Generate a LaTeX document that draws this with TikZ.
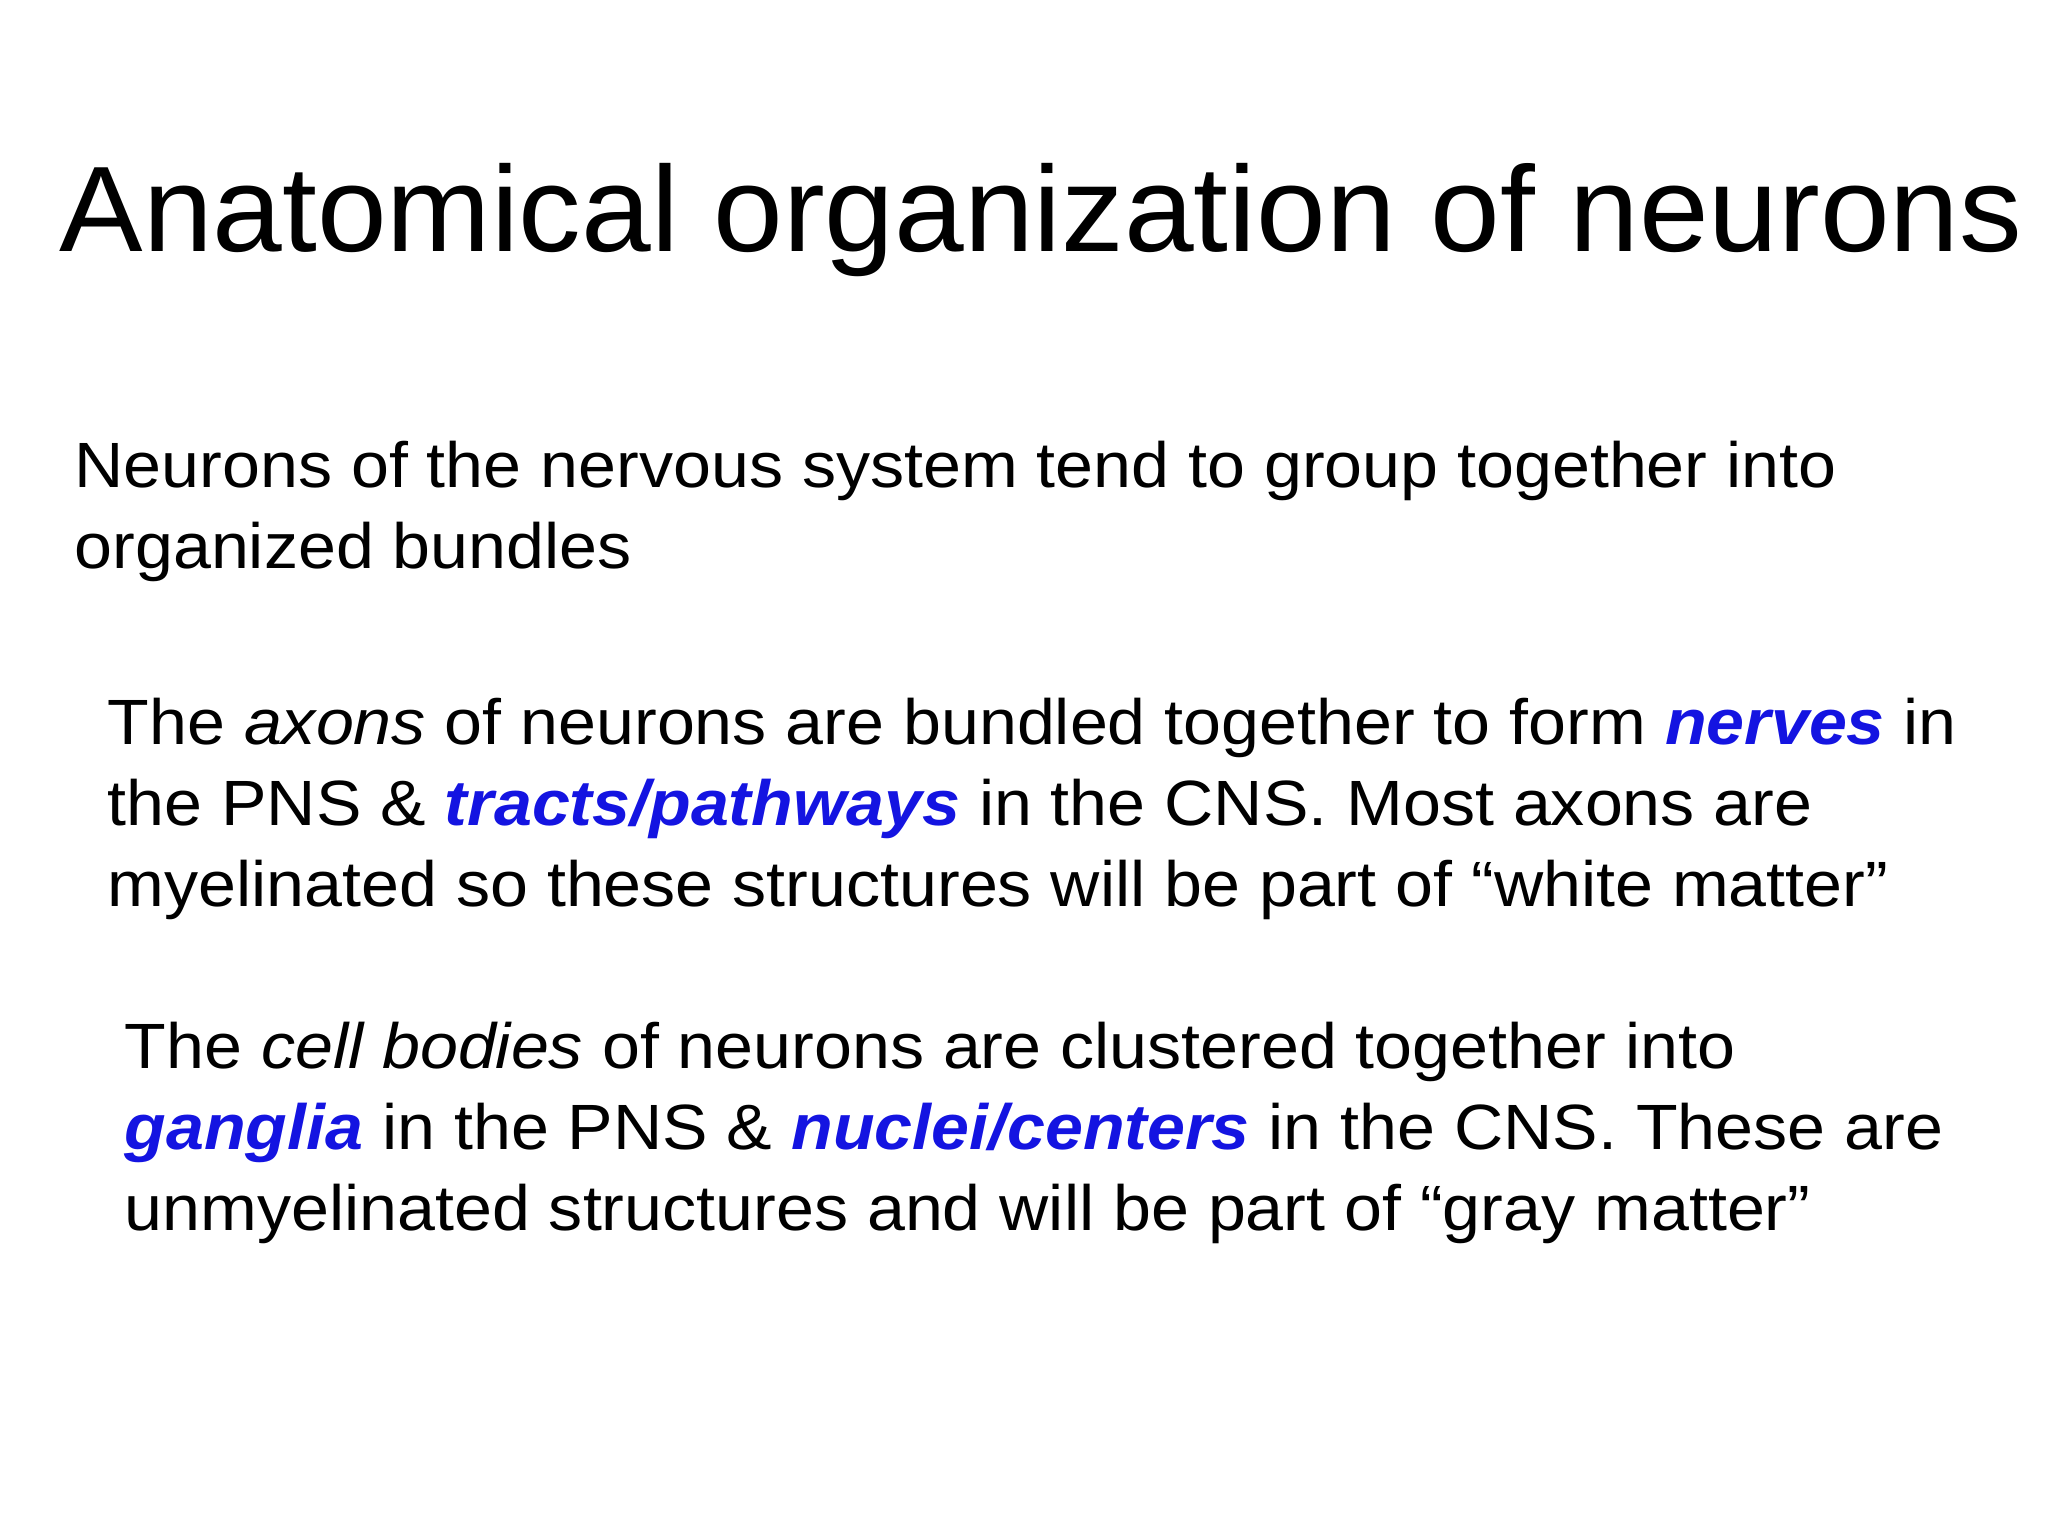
\documentclass[tikz,border=0pt]{standalone}
\usepackage{fontspec}
\setmainfont{Liberation Sans}[FakeStretch=1.065]
\newfontfamily\titlefont{Liberation Sans}[FakeStretch=1.029]
\definecolor{kblue}{RGB}{20,20,225}
\begin{document}
\begin{tikzpicture}[x=0.01cm,y=-0.01cm,
  ln/.style={anchor=base west,inner sep=0pt,font=\fontsize{18.2pt}{22pt}\selectfont},
  ttl/.style={anchor=base west,inner sep=0pt,font=\titlefont\fontsize{34.6pt}{40pt}\selectfont}]
\useasboundingbox (0,0) rectangle (2048,1536);
\node[ttl] (t) at (59,251) {Anatomical organization of neurons};
\node[ln] (a1) at (74,487) {Neurons of the nervous system tend to group together into};
\node[ln] (a2) at (74,568) {organized bundles};
\node[ln] (b1) at (107,744) {The \textit{axons} of neurons are bundled together to form \textcolor{kblue}{\textbf{\textit{nerves}}} in};
\node[ln] (b2) at (107,825) {the PNS \& \textcolor{kblue}{\textbf{\textit{tracts/pathways}}} in the CNS. Most axons are};
\node[ln] (b3) at (107,906) {myelinated so these structures will be part of “white matter”};
\node[ln] (c1) at (124,1068) {The \textit{cell bodies} of neurons are clustered together into};
\node[ln] (c2) at (124,1149) {\textcolor{kblue}{\textbf{\textit{ganglia}}} in the PNS \& \textcolor{kblue}{\textbf{\textit{nuclei/centers}}} in the CNS. These are};
\node[ln] (c3) at (124,1230) {unmyelinated structures and will be part of “gray matter”};
\end{tikzpicture}
\end{document}
